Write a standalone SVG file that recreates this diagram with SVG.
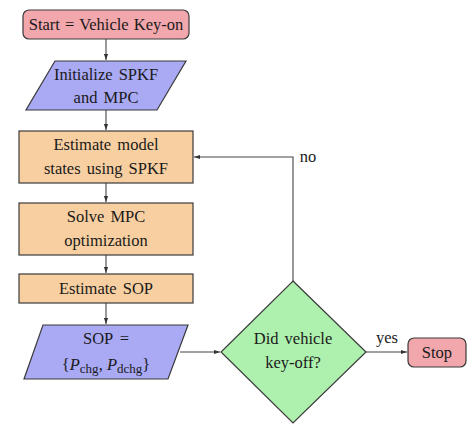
<svg xmlns="http://www.w3.org/2000/svg" width="474" height="428" viewBox="0 0 474 428">
<style>
text{font-family:'Liberation Serif','DejaVu Serif',serif;font-size:16.5px;fill:#1a1a1a;text-anchor:middle}
.term{fill:#f2a7ac;stroke:#3a3a3a;stroke-width:1.2}
.io{fill:#a9a9f4;stroke:#3a3a3a;stroke-width:1.2}
.proc{fill:#f8cfa1;stroke:#3a3a3a;stroke-width:1.2}
.dec{fill:#aef0ae;stroke:#3a3a3a;stroke-width:1.2}
.edge{fill:none;stroke:#444;stroke-width:1.1;marker-end:url(#ah)}
</style>
<defs>
<marker id="ah" viewBox="0 0 10 10" refX="10" refY="5" markerWidth="6" markerHeight="6" orient="auto" markerUnits="userSpaceOnUse">
<path d="M0,1.5 L10,5 L0,8.5 z" fill="#333"/>
</marker>
</defs>
<rect width="474" height="428" fill="#fff"/>
<g id="connectors">
<path class="edge" d="M106,39 V60"/>
<path class="edge" d="M106,110 V130"/>
<path class="edge" d="M106,183 V202"/>
<path class="edge" d="M106,255 V273"/>
<path class="edge" d="M106,303 V324"/>
<path class="edge" d="M180,352 H220"/>
<path class="edge" d="M293,281 V157 H194"/>
<path class="edge" d="M366,352 H407"/>
<text x="308" y="162">no</text>
<text x="387" y="343">yes</text>
</g>
<g id="start">
<rect class="term" x="23" y="10" width="166" height="29" rx="6"/>
<text x="106" y="30" word-spacing="1">Start = Vehicle Key-on</text>
</g>
<g id="init">
<polygon class="io" points="55,61 186,61 157,110 26,110"/>
<text x="106" y="80" word-spacing="2">Initialize SPKF</text>
<text x="106" y="103" word-spacing="2">and MPC</text>
</g>
<g id="estimate">
<rect class="proc" x="19" y="131" width="174" height="52"/>
<text x="106" y="150" word-spacing="2">Estimate model</text>
<text x="106" y="174" word-spacing="2">states using SPKF</text>
</g>
<g id="solve">
<rect class="proc" x="19" y="203" width="174" height="52"/>
<text x="106" y="222" word-spacing="2">Solve MPC</text>
<text x="106" y="246">optimization</text>
</g>
<g id="sop-est">
<rect class="proc" x="19" y="274" width="174" height="29"/>
<text x="106" y="294" word-spacing="2">Estimate SOP</text>
</g>
<g id="sop">
<polygon class="io" points="43,325 188,325 168,379 24,379"/>
<text x="106" y="344" font-size="17.5" word-spacing="3">SOP =</text>
<text x="106" y="370" font-size="18">{<tspan font-style="italic">P</tspan><tspan font-size="13" dy="3">chg</tspan><tspan dy="-3">, </tspan><tspan font-style="italic">P</tspan><tspan font-size="13" dy="3">dchg</tspan><tspan dy="-3">}</tspan></text>
</g>
<g id="decision">
<polygon class="dec" points="293,281 366,352 293,423 221,352"/>
<text x="293" y="344" word-spacing="2">Did vehicle</text>
<text x="293" y="368">key-off?</text>
</g>
<g id="stop">
<rect class="term" x="408" y="338" width="58" height="29" rx="6"/>
<text x="437" y="358">Stop</text>
</g>
</svg>
